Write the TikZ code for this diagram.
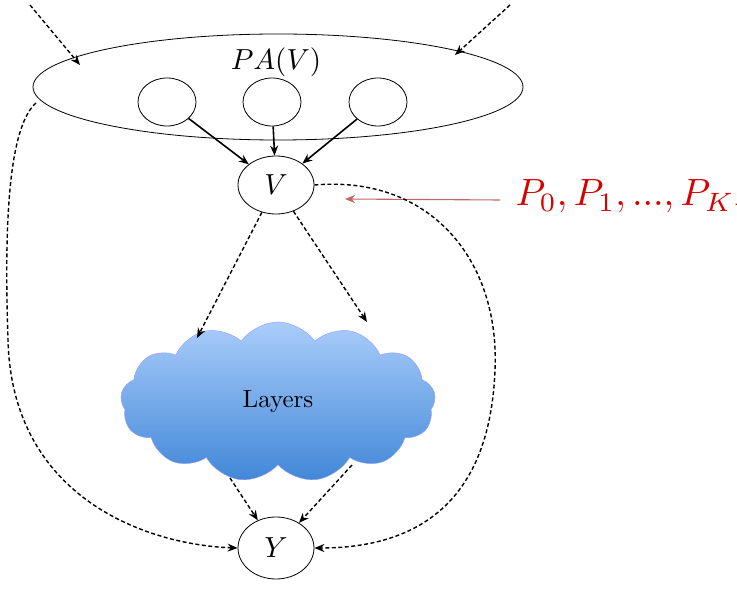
\documentclass[tikz,border=0pt]{standalone}
\usepackage{graphicx}
\usetikzlibrary{shapes.geometric,shapes.symbols,arrows.meta}
\begin{document}
\begin{tikzpicture}[x=1pt,y=-1pt,
  circ/.style={draw,ellipse,line width=0.8pt,fill=white},
  solidarr/.style={-{Stealth[length=10pt,width=8pt]},line width=1.6pt},
  dasharr/.style={-{Stealth[length=10pt,width=8pt]},line width=1.4pt,dash pattern=on 4pt off 2.5pt}]
\useasboundingbox (0,0) rectangle (737,593);
\node[circ,minimum width=490pt,minimum height=106pt] (pa) at (278,87) {};
\node (pal) at (276,62) {\scalebox{2.9}{$PA(V)$}};
\node[circ,minimum width=58pt,minimum height=48pt] (c1) at (167,102) {};
\node[circ,minimum width=58pt,minimum height=48pt] (c2) at (272,102) {};
\node[circ,minimum width=58pt,minimum height=48pt] (c3) at (378,102) {};
\node[circ,minimum width=76pt,minimum height=58pt,inner sep=0pt] (v) at (276,185) {\scalebox{2.9}{$V$}};
\node[circ,minimum width=76pt,minimum height=62pt,inner sep=0pt] (y) at (276,548) {\scalebox{2.9}{$Y$}};
\node[cloud,cloud puffs=13,cloud puff arc=110,aspect=2.1,minimum width=315pt,minimum height=160pt,
  draw=blue!40!white,top color={rgb,255:red,170;green,205;blue,250},bottom color={rgb,255:red,65;green,135;blue,215}] (cl) at (278,402) {\scalebox{2.5}{Layers}};
\node[text=red!85!black,anchor=west] (p) at (512,197) {\scalebox{3.8}{$P_0, P_1, ..., P_{K-1}$}};
\coordinate (t1) at (30,5);
\coordinate (t2) at (510,5);
\coordinate (ra) at (500,200);
\draw[dasharr] (t1) -- (80,65);
\draw[dasharr] (t2) -- (455,55);
\draw[solidarr] (c1) -- (v);
\draw[solidarr] (c2) -- (v);
\draw[solidarr] (c3) -- (v);
\draw[-{Stealth[length=10pt,width=8pt]},line width=1.1pt,red!60!black!60!white] (ra) -- (345,199);
\draw[dasharr] (v) -- (197,338);
\draw[dasharr] (v) -- (367,322);
\draw[dasharr] (230,478) -- (y);
\draw[dasharr] (352,465) -- (y);
\draw[dasharr] (36,103) .. controls (5,130) and (5,250) .. (8,340) .. controls (12,500) and (150,545) .. (y.west);
\draw[dasharr] (v.east) .. controls (430,175) and (500,260) .. (495,370) .. controls (490,500) and (420,548) .. (y.east);
\end{tikzpicture}
\end{document}
